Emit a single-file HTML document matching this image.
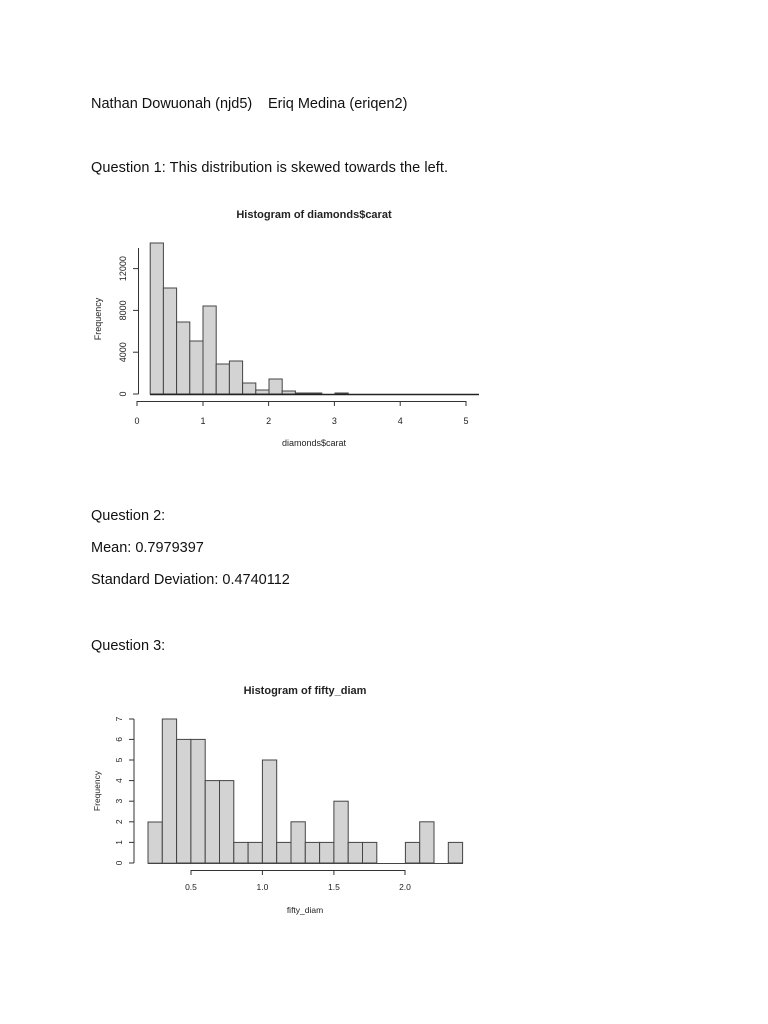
<!DOCTYPE html>
<html><head><style>
html,body{margin:0;padding:0;background:#fff;}
svg{display:block;}
.t{font-family:"Liberation Sans",sans-serif;font-size:14.5px;fill:#111;}
.r{font-family:"Liberation Sans",sans-serif;fill:#222;}
</style></head><body>
<svg width="768" height="1024" xmlns="http://www.w3.org/2000/svg">
<text class="t" x="91" y="108">Nathan Dowuonah (njd5)</text>
<text class="t" x="268" y="108">Eriq Medina (eriqen2)</text>
<text class="t" x="91" y="172" textLength="357">Question 1: This distribution is skewed towards the left.</text>
<text class="t" x="91" y="520">Question 2:</text>
<text class="t" x="91" y="552">Mean: 0.7979397</text>
<text class="t" x="91" y="584">Standard Deviation: 0.4740112</text>
<text class="t" x="91" y="650">Question 3:</text>

<!-- Chart 1 -->
<text class="r" x="314" y="218" font-size="11" font-weight="bold" text-anchor="middle">Histogram of diamonds$carat</text>
<g fill="#d3d3d3" stroke="#444" stroke-width="1">
<rect x="150.2" y="243" width="13.2" height="151"/>
<rect x="163.4" y="288" width="13.2" height="106"/>
<rect x="176.6" y="322" width="13.2" height="72"/>
<rect x="189.8" y="341" width="13.2" height="53"/>
<rect x="203" y="306" width="13.2" height="88"/>
<rect x="216.2" y="364" width="13.2" height="30"/>
<rect x="229.4" y="361" width="13.2" height="33"/>
<rect x="242.6" y="383" width="13.2" height="11"/>
<rect x="255.8" y="390" width="13.2" height="4"/>
<rect x="269" y="379" width="13.2" height="15"/>
<rect x="282.2" y="391" width="13.2" height="3"/>
<rect x="295.4" y="393" width="13.2" height="1"/>
<rect x="308.6" y="393" width="13.2" height="1"/>
<rect x="335" y="393" width="13.2" height="1"/>
</g>
<line x1="150" y1="394.5" x2="479" y2="394.5" stroke="#222" stroke-width="1.5"/>
<g stroke="#333" stroke-width="1">
<line x1="137" y1="401.5" x2="466" y2="401.5"/>
<line x1="137" y1="401" x2="137" y2="406"/><line x1="203" y1="401" x2="203" y2="406"/>
<line x1="268.6" y1="401" x2="268.6" y2="406"/><line x1="334.4" y1="401" x2="334.4" y2="406"/>
<line x1="400.2" y1="401" x2="400.2" y2="406"/><line x1="466" y1="401" x2="466" y2="406"/>
<line x1="138.5" y1="248" x2="138.5" y2="394"/>
<line x1="133" y1="394" x2="138.5" y2="394"/><line x1="133" y1="352.2" x2="138.5" y2="352.2"/>
<line x1="133" y1="310.4" x2="138.5" y2="310.4"/><line x1="133" y1="268.6" x2="138.5" y2="268.6"/>
</g>
<g class="r" font-size="9" text-anchor="middle">
<text x="137" y="424">0</text><text x="203" y="424">1</text><text x="268.6" y="424">2</text>
<text x="334.4" y="424">3</text><text x="400.2" y="424">4</text><text x="466" y="424">5</text>
<text transform="translate(126,394) rotate(-90)">0</text>
<text transform="translate(126,352.2) rotate(-90)">4000</text>
<text transform="translate(126,310.4) rotate(-90)">8000</text>
<text transform="translate(126,268.6) rotate(-90)">12000</text>
<text transform="translate(101,319) rotate(-90)">Frequency</text>
<text x="314" y="446">diamonds$carat</text>
</g>

<!-- Chart 2 -->
<text class="r" x="305" y="694" font-size="11" font-weight="bold" text-anchor="middle">Histogram of fifty_diam</text>
<g fill="#d3d3d3" stroke="#444" stroke-width="1">
<rect x="148" y="822" width="14.3" height="41.2"/>
<rect x="162.3" y="719" width="14.3" height="144.2"/>
<rect x="176.6" y="739.4" width="14.3" height="123.6"/>
<rect x="190.9" y="739.4" width="14.3" height="123.6"/>
<rect x="205.2" y="780.6" width="14.3" height="82.4"/>
<rect x="219.5" y="780.6" width="14.3" height="82.4"/>
<rect x="233.8" y="842.4" width="14.3" height="20.6"/>
<rect x="248.1" y="842.4" width="14.3" height="20.6"/>
<rect x="262.4" y="760" width="14.3" height="103"/>
<rect x="276.7" y="842.4" width="14.3" height="20.6"/>
<rect x="291" y="821.8" width="14.3" height="41.2"/>
<rect x="305.3" y="842.4" width="14.3" height="20.6"/>
<rect x="319.6" y="842.4" width="14.3" height="20.6"/>
<rect x="333.9" y="801.2" width="14.3" height="61.8"/>
<rect x="348.2" y="842.4" width="14.3" height="20.6"/>
<rect x="362.5" y="842.4" width="14.3" height="20.6"/>
<rect x="405.4" y="842.4" width="14.3" height="20.6"/>
<rect x="419.7" y="821.8" width="14.3" height="41.2"/>
<rect x="448.3" y="842.4" width="14.3" height="20.6"/>
</g>
<line x1="148" y1="863.5" x2="463" y2="863.5" stroke="#444" stroke-width="1"/>
<g stroke="#333" stroke-width="1">
<line x1="191" y1="870.5" x2="405" y2="870.5"/>
<line x1="191" y1="870" x2="191" y2="875"/><line x1="262.4" y1="870" x2="262.4" y2="875"/>
<line x1="333.9" y1="870" x2="333.9" y2="875"/><line x1="405" y1="870" x2="405" y2="875"/>
<line x1="134" y1="719" x2="134" y2="863"/>
<line x1="129" y1="863" x2="134" y2="863"/><line x1="129" y1="842.4" x2="134" y2="842.4"/>
<line x1="129" y1="821.8" x2="134" y2="821.8"/><line x1="129" y1="801.2" x2="134" y2="801.2"/>
<line x1="129" y1="780.6" x2="134" y2="780.6"/><line x1="129" y1="760" x2="134" y2="760"/>
<line x1="129" y1="739.4" x2="134" y2="739.4"/><line x1="129" y1="719" x2="134" y2="719"/>
</g>
<g class="r" font-size="8.5" text-anchor="middle">
<text x="191" y="890">0.5</text><text x="262.4" y="890">1.0</text>
<text x="333.9" y="890">1.5</text><text x="405" y="890">2.0</text>
<text transform="translate(122,863) rotate(-90)">0</text>
<text transform="translate(122,842.4) rotate(-90)">1</text>
<text transform="translate(122,821.8) rotate(-90)">2</text>
<text transform="translate(122,801.2) rotate(-90)">3</text>
<text transform="translate(122,780.6) rotate(-90)">4</text>
<text transform="translate(122,760) rotate(-90)">5</text>
<text transform="translate(122,739.4) rotate(-90)">6</text>
<text transform="translate(122,719) rotate(-90)">7</text>
<text transform="translate(100,791) rotate(-90)">Frequency</text>
<text x="305" y="913">fifty_diam</text>
</g>
</svg>
</body></html>
